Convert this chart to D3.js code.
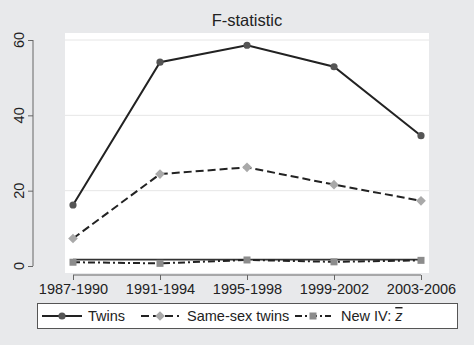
<!DOCTYPE html>
<html><head><meta charset="utf-8">
<script src="https://cdn.jsdelivr.net/npm/d3@7"></script>
<style>body{margin:0;background:#e8e9eb;} svg{display:block;font-family:"Liberation Sans",Arial,sans-serif;}</style>
</head><body>
<script>
const categories = ["1987-1990","1991-1994","1995-1998","1999-2002","2003-2006"];
const twins = [16.2, 54.1, 58.6, 52.9, 34.6];
const sameSex = [7.3, 24.4, 26.2, 21.6, 17.3];
const newIV = [1.0, 0.7, 1.6, 1.1, 1.5];
const baseline = [1.7, 1.7, 1.7, 1.7, 1.7];
const yTicks = [0, 20, 40, 60];

const W = 474, H = 345;
const svg = d3.select("body").append("svg").attr("width", W).attr("height", H);
svg.append("rect").attr("width", W).attr("height", H).attr("fill", "#e8e9eb");

const x = d3.scalePoint().domain(categories).range([73, 421]);
const y = d3.scaleLinear().domain([0, 60]).range([266, 40]);

// plot area
svg.append("rect").attr("x", 65).attr("y", 33).attr("width", 364).attr("height", 240).attr("fill", "#fff");
// gridlines
svg.append("g").selectAll("line").data(yTicks.filter(d => d > 0)).join("line")
  .attr("x1", 65).attr("x2", 429).attr("y1", d => y(d)).attr("y2", d => y(d))
  .attr("stroke", "#e6e6e6").attr("stroke-width", 1);

// title
svg.append("text").attr("x", 247).attr("y", 26).attr("text-anchor", "middle")
  .attr("font-size", 16.5).attr("fill", "#222").text("F-statistic");

// y axis
const ya = svg.append("g").attr("transform", "translate(33,0)")
  .call(d3.axisLeft(y).tickValues(yTicks).tickSize(5).tickPadding(0).tickFormat(""));
ya.select(".domain").attr("stroke", "#666").attr("d", `M0,${y(60)}V${y(0)}`);
ya.selectAll(".tick line").attr("stroke", "#666");
svg.append("g").selectAll("text").data(yTicks).join("text")
  .attr("transform", d => `translate(24,${y(d)}) rotate(-90)`)
  .attr("text-anchor", "middle").attr("font-size", 14.5).attr("fill", "#222").text(d => d);

// x axis
const xa = svg.append("g").attr("transform", "translate(0,275)")
  .call(d3.axisBottom(x).tickSize(5).tickPadding(3));
xa.select(".domain").attr("stroke", "#666").attr("d", `M${x(categories[0])},0H${x(categories[4])}`);
xa.selectAll(".tick line").attr("stroke", "#666");
xa.selectAll(".tick text").attr("font-size", 14.5).attr("fill", "#222").attr("font-family", "Liberation Sans, Arial, sans-serif").attr("dy", "0.75em");

const line = d3.line().x((d, i) => x(categories[i])).y(d => y(d));

// baseline solid
svg.append("path").datum(baseline).attr("d", line).attr("fill", "none").attr("stroke", "#333").attr("stroke-width", 1.8);
// new IV
svg.append("path").datum(newIV).attr("d", line).attr("fill", "none").attr("stroke", "#222").attr("stroke-width", 2).attr("stroke-dasharray", "7,3,2,3");
svg.append("g").selectAll("rect").data(newIV).join("rect")
  .attr("x", (d, i) => x(categories[i]) - 3.5).attr("y", d => y(d) - 3.5).attr("width", 7).attr("height", 7).attr("fill", "#8c8c8c");
// same-sex
svg.append("path").datum(sameSex).attr("d", line).attr("fill", "none").attr("stroke", "#222").attr("stroke-width", 2).attr("stroke-dasharray", "8,4");
const diamond = d3.symbol().type(d3.symbolDiamond2).size(60);
svg.append("g").selectAll("path").data(sameSex).join("path")
  .attr("transform", (d, i) => `translate(${x(categories[i])},${y(d)})`).attr("d", diamond).attr("fill", "#a9a9a9");
// twins
svg.append("path").datum(twins).attr("d", line).attr("fill", "none").attr("stroke", "#222").attr("stroke-width", 2);
svg.append("g").selectAll("circle").data(twins).join("circle")
  .attr("cx", (d, i) => x(categories[i])).attr("cy", d => y(d)).attr("r", 3.6).attr("fill", "#555");

// legend
const lg = svg.append("g");
lg.append("rect").attr("x", 37.5).attr("y", 303.5).attr("width", 420).attr("height", 25).attr("fill", "#fff").attr("stroke", "#555").attr("stroke-width", 1);
const ly = 316;
function item(x0, x1, dash, marker, label, tx) {
  lg.append("line").attr("x1", x0).attr("x2", x1).attr("y1", ly).attr("y2", ly).attr("stroke", "#222").attr("stroke-width", 2).attr("stroke-dasharray", dash);
  marker((x0 + x1) / 2);
  return lg.append("text").attr("x", tx).attr("y", ly + 5).attr("font-size", 14.5).attr("fill", "#222").text(label);
}
item(42, 82, null, cx => lg.append("circle").attr("cx", cx).attr("cy", ly).attr("r", 3.6).attr("fill", "#555"), "Twins", 88);
item(141, 179, "8,4", cx => lg.append("path").attr("transform", `translate(${cx},${ly})`).attr("d", diamond).attr("fill", "#a9a9a9"), "Same-sex twins", 187);
const t = item(295, 331, "7,3,2,3", cx => lg.append("rect").attr("x", cx - 3.5).attr("y", ly - 3.5).attr("width", 7).attr("height", 7).attr("fill", "#8c8c8c"), "New IV: ", 341);
t.append("tspan").attr("font-style", "italic").attr("text-decoration", "overline").text("z");
</script>
</body></html>
